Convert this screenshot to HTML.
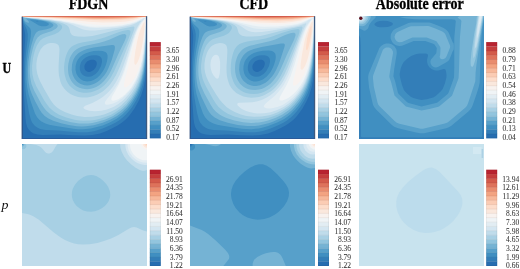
<!DOCTYPE html>
<html><head><meta charset="utf-8"><style>
html,body{margin:0;padding:0;background:#fff;}
body{width:520px;height:269px;position:relative;overflow:hidden;}
svg{position:absolute;left:0;top:0;display:block;filter:blur(0.6px);}
</style></head><body>
<svg width="520" height="269" viewBox="0 0 520 269">
<rect x="22.0" y="16.0" width="125.0" height="123.0" fill="#266db0"/>
<path fill="#337eb8" d="M72.9 135.2l11.6 .2 7.8-.5 3.9-.6 3.9-.9 6.5-2.5 5.2-2.4 5.3-2.8 3.9-2.5 2.6-2 2.6-2.3 2.8-3 3-3.8 2.6-3.9 3.6-6.4 2.9-6.4 2.4-7.6 1.5-7.7 .8-7.7 .5-10.3 .7-46.1-125 0 0 1.2 .4 .1 .6 6.4 1.7 7.7 .5 3.8-.1 5.1-1.4 23.1-.1 20.5 .4 11.5 1.5 23.1 .7 5.1 1 3.3 1.3 2.3 2.6 2.7 2.6 1.6 3.9 1.1 5.2 .4 17-.4zM87.1 71.5l-1.3-.8-.7-.9-.6-1.4-.1-2.4 .4-1.3 1-1.7 1.3-1.4 1.2-.8 2.7-1 2.6 0 1.3 .5 .8 .5 .9 1.3 .2 1.3-.1 1.3-.9 2.5-.9 1.4-1.3 1.4-2.6 1.5-1.3 .4-1.3 0z"/>
<path fill="#408fc1" d="M66.2 131.3l11.8 1 9.1-.1 3.9-.5 3.9-.7 7.8-2.5 9.1-3.9 4-2.2 3.9-2.5 3.9-3.1 2.6-2.5 3.1-3.5 2.9-3.8 4-6.4 3.7-7.7 2.6-7.7 1.7-7.7 1-7.7 .7-10.2 .6-19.3 .2-23 .3-.2 0-1.1-125 0 0 1.1 .7 .2 .6 4.7 3.7 8.1 .8 3.8-.1 5.2-1.8 14.4-.7 8.6-.4 10.3 .1 8.9 .6 9 1 7.7 2.7 15.4 1.7 6.4 1.5 3.2 2.6 3 2.6 1.8 2.6 1.1 5.2 1 13.1 .7zM85.8 76.5l-2.6-1.3-1.3-1.3-1.1-1.5-.9-2.6-.1-2.6 .4-2.5 1-2.6 .9-1.3 1.1-1.2 2.6-2 2.6-1.3 2.6-.7 2.6-.4 2.6 0 2.3 .5 1.6 .9 1.4 1.7 .4 1.3 .1 2.5-1 3.9-2.2 4.2-1.3 1.7-1.7 1.8-3.5 2.2-1.3 .5-2.6 .4zM36.3 21.3l-.5-.2 .5-.1 2.5 .1-1.2 .4z"/>
<path fill="#57a0ca" d="M73.5 128.8l4.5 .4 5.2 .1 7.8-.8 7.8-1.9 3.9-1.2 6.5-2.7 6.6-3.5 2.6-1.7 3.9-3 5.2-5.1 3-3.7 2.7-3.9 3.8-6.4 2.8-6.4 2.5-7.7 1.7-7.6 1.1-9 .6-10.3 .6-16.6 .3-20.5 .4-.2 0-1.1-125 0 0 1.1 .9 .2 .4 2.8 1.3 2.5 1.3 1.6 3.5 3.3 1 1.3 .7 2.6-.3 5.1-2.6 14.1-1.2 9-.6 8.9 0 10.3 .7 7.7 1.4 7.4 2.6 8.7 3.9 10.8 2.1 3.8 2.2 2.6 2.2 1.8 3.9 2 3.9 1.1 5.3 1.1zM87.1 81.4l-2.6-.3-1.3-.4-2.6-1.5-2.6-2.6-1.6-2.9-.9-3.9 .1-3.8 1-3.9 1.3-2.5 2-2.6 3.3-2.5 2.6-1.3 3.9-1.3 3.9-.8 5.2-.4 3.9 .2 2.7 1 1.2 1.1 .7 1.4 .3 1.3-.1 2.6-.4 2.5-1.1 3.9-1.6 3.8-1.4 2.6-2.9 3.9-2.5 2.5-1.8 1.3-2.2 1.2-2.6 1zM41.5 26.3l-2.6-.7-9.5-5.8 .4-.3 1.3 0 5.4 .3 2.4 .7 4.2 .6 4 1.3 1.8 1.3-.3 1.3-1.9 .9-1.3 .3z"/>
<path fill="#75b3d4" d="M76.7 126.2l5.2 .2 3.9-.1 7.8-1 9.1-2.5 7.8-3.2 6.6-3.7 5.2-4 5.2-5.2 2.6-3.2 3-4.2 3.5-6.1 3-6.7 2.4-7.7 1.7-7.7 1-7.7 .6-7.7 .8-17.9 .4-20.5 .5-.3 0-1-125 0 0 1 1.2 .3 .1 1 1.3 2.5 1.3 1.1 1.3 .7 1.3 .1 .5-.3-.4-1.3-3-2.5 1.6-.2 2.6 .1 2.6 .6 6.4 .7 7 1.3 4.5 1.3 2.4 1.3 .8 1.3-.5 1.3-2.4 1.6-3.9 1.3-7.8 1.6-1.3 .6-1.3 1.1-1.3 1.9-1.3 2.9-2.6 8.7-1.5 7.2-1.3 8.9-.4 7.7 .2 7.7 .5 5.1 1.2 5.8 2.1 5.8 3.1 6.7 4.6 8.6 1.9 3 3.2 3.4 3.3 2.4 5.2 2.4 7.9 2.5 7.8 1.8zM84.5 85.2l-3.9-1.2-2.4-1.4-1.5-1.3-2.1-2.5-1.9-3.9-.6-2.5-.4-2.6 .3-5.1 .6-2.6 .9-2.5 1.9-3.3 2.6-2.8 2.2-1.6 3-1.5 3.9-1.4 6.5-1.4 14.3-2.2 3.9-.4 1.3 0 1.2 .5 .6 1.3-.1 2.5-2.9 10.3-3.6 8.9-2 3.9-2.3 3.4-3.9 4.3-2.6 2-2.6 1.5-2.6 1-2.6 .6-2.6 .2z"/>
<path fill="#92c5de" d="M71.1 122.3l8.2 1.2 3.9 .1 5.2-.2 3.9-.5 5.2-1.1 7.8-2.4 3.9-1.6 3.9-1.9 6.6-4.3 3.9-3.3 2.6-2.6 5.2-6.5 3.9-6.2 3.2-6.5 2.7-7.7 1.9-8.2 1.3-9.1 .5-5.8 1-17.9 .5-12.8 0-7.7 .6-.3 0-1-125 0 0 1 2.2 .3 .4 .5 1.3 .3 6.1 .5 16.5 2.5 4.8 1.3 2.8 1.3 1.4 1.3 .2 1.3-.6 1.2-1.3 1.3-3.9 2.1-9.1 3-2.6 1.3-2.6 2.4-1.7 2.7-1.7 3.9-1.2 3.8-1.3 5.2-1 5.1-.6 5.1-.4 5.1 .1 5.2 .4 3.8 1.3 6.4 2.5 6.4 7.5 13.9 2.6 3.9 2.3 2.7 4.2 3.7 5.3 3 6.5 2.5zM84.5 89.1l-2.6-.5-2.6-.8-2.5-1.3-1.8-1.3-2.2-2.2-1.3-1.7-1.4-2.5-1-2.6-.7-2.5-.4-3.9 0-2.6 .4-3.8 1.3-5.1 1.2-2.6 1.6-2.5 1.6-1.9 2.5-2 2.7-1.5 2.6-1 4.8-1.3 12.1-2.5 5.2-1.4 5.2-1.9 9.9-4.5 3.2-1 2.6-.2 1.4 1.2-.1 1.7-1.2 3.4-6.3 12.9-7.3 16.6-2.2 4.1-2.3 3.6-2.9 3.5-2.6 2.5-2.6 1.9-2.6 1.5-2.6 1.1-2.6 .7-3.9 .5z"/>
<path fill="#a8d0e4" d="M74.5 119.8l4.8 .7 3.9 .2 7.8-.3 3.9-.5 5.2-1.2 7.8-2.6 3.2-1.4 4.6-2.6 5.3-3.8 5.2-4.9 5.2-6.5 4-6.6 3.8-8.3 2.6-8.5 1.3-6.4 1.3-10.1 1.1-15.4 .7-16.6 0-7.7 .8-.4 0-.9-125 0 0 .9 3.2 .4 .7 .3 17.5 2.2 7.2 1.2 4 .9 4.9 1.8 1.8 1.3 .8 1.3 .1 1.2-.5 1.3-.9 1.3-2.3 2.2-3.9 2-7.9 2.5-3.9 1.7-2.6 2.1-2.6 3.6-1.3 2.6-1.3 3.5-1.3 4.6-.7 3.4-.9 7.7 0 3.8 .3 4.3 1.3 6 2.7 6.4 7.7 13.7 2.6 3.9 2.6 3.3 3.9 3.6 2.7 1.8 3.2 1.9 7.2 2.9zM79.3 91.9l-2.6-1-2.6-1.3-2.6-2-2.3-2.4-1.7-2.6-1.2-2.4-1.6-5.3-.5-3.8-.1-3.9 .3-3.8 .6-3.8 1-3.9 1-2.5 1.3-2.6 1.9-2.6 1.3-1.2 1.9-1.3 4.6-1.9 3.9-1 11.7-2.2 5.9-1.3 5.8-1.9 11.9-4.5 5.1-1.6 5.2-1 1.3-.1 1.3 .5 .4 .9-.3 2.5-1.3 3.9-2.7 6.4-12 26.9-3.5 6.4-2.8 3.8-3.6 3.9-2.9 2.4-2.6 1.7-3.9 1.8-3.9 1.2-3.9 .5-3.9-.1z"/>
<path fill="#c0dceb" d="M77.2 115.9l7.3 1 7.8-.2 7.8-1.2 3.9-1 3.9-1.4 6.5-3.1 4-2.6 2.6-2 5.2-4.9 5.2-6.4 3.9-6.4 2.6-5.5 2.1-6 1.8-6.4 1.3-6.9 1.2-9.7 1.4-19.3 .4-8.9 0-7.7 .9-.5 0-.8-125 0 0 .8 1.3 .3 2.8 .2 2.4 .6 17.9 1.9 8.2 1.3 5.5 1.3 3.8 1.3 2.5 1.3 1.6 1.2 .9 1.3 .5 1.3 1 3.9 1.1 1.7 1 .8 1.6 .7 3.9 .7 6.5 .1 7.8-.8 6.5-1.3 17.5-4.5 15.1-3.3 2.6-.2 .5 .9-.5 2.6-2.6 6.9-11.7 30.1-3.6 7.8-3 5.2-2.6 3.6-2.3 2.8-2.9 2.8-2.6 2.1-5.2 3.1-3.9 1.6-2.6 .7-3.9 .7-5.2 0-3.9-.5-3.9-1.2-3.4-1.6-3.1-2.2-2.6-2.5-2.3-3-1.4-2.6-1-2.6-1.4-6.4-.3-3.8 0-5.1 .9-16.7-.4-2.5-.6-1.5-1.1-1.1-1.5-.8-2.7-.4-2.6 .1-2.6 .5-1.5 .6-2.4 1.3-1.3 1.3-2.1 2.5-1.9 3.9-1.6 5.1-.8 5.1 0 5.1 .9 5.2 1.2 3.8 1.7 4 3.9 7.5 6.7 11.6 3 3.8 2.6 2.6 3.5 2.5 4.9 2.6 6.7 2.4z"/>
<path fill="#d4e6f1" d="M89.3 110.8l5.6 .5 6.5-.5 5.6-1.3 6.4-2.5 5-3 5.2-4.1 5.2-5.6 3.8-5.3 3.6-6.4 2.7-6.4 2.7-9 1-5.1 1.3-8.9 1.1-11.6 1-16.6 0-7.7 1-.5 0-.8-125 0 0 .8 1.3 .2 3.9 .3 1.3 .4 10.4 .9 3.9 .7 7.8 .6 4 .8 4 .4 3.8 1 2.3 .3 4.6 1.3 3.5 1.3 6.5 3 3.9 1.5 2.6 .5 3.9 .5 5.2-.1 5.2-.4 19.6-2.6 7.8-1.5 3.9-1 3.9-1.3 4.5-2.5 .7-.2 .8 .2-2 2.6-2.2 3.8-2.9 6.4-10.9 32.1-3.7 8.9-3.2 6.4-3.3 5.1-2.6 3.3-2.6 2.8-3.9 3.4-3.9 2.8-3.9 2.3-3.9 1.9-7 2.8-1.8 1.3 .1 1.2 1.7 1.3zM141.8 20.2l-.1-.4 .3 0z"/>
<path fill="#e2edf3" d="M105.5 104.4l1.1 .3 2.6-.1 3.9-1 4-1.8 5.2-3.5 3.9-3.6 2.9-3.1 2.9-3.8 2.4-3.9 2.6-5.1 2.9-7.7 .5-2.6 .9-2.5 .2-2.6 .9-2.6 .5-5.1 .7-2.5 .5-7.7 .6-3.9 .7-12.8 .5-3.8 0-7.7 1.1-.6 0-.7-125 0 0 .7 1.3 .2 15.6 1.4 3.9 .7 9.1 .6 2.7 .7 6.5 .6 2.6 .9 3.9 .4 2.6 .9 2.6 .3 2.6 .9 9.1 2.3 5.2 .8 6.5 .5 5.2-.1 13-.9 10.5-1.4 2.6-.8 2.6-.3 2.6-1 1.3-.2 5.2-2.5 1.3-.9 1.3-.4 1.3-1 1.3-.1 .3 .3-3.6 3.8-.6 1.3-1.9 2.6-.4 1.2-1 1.3-.3 1.3-.8 1.3-.8 2.5-.7 1.3-.6 2.5-.7 1.4-.6 2.5-.6 1.3-.6 2.6-.6 1.3-.6 2.5-5.4 17.5-2.6 7.3-2 4.7-2.6 5.1-3.3 5.4-3.9 5.3-3.7 4.7-1.7 2.5-.4 1.3z"/>
<path fill="#f0f4f6" d="M111.9 100.6l1.2 .2 1.3-.2 4-1.4 3.8-2.5 2.7-2.2 3.9-4 2.6-3.3 2.6-4.1 1.6-3 .4-1.3 .9-1.3 .2-1.3 .8-1.3 .7-2.5 .7-1.3 .4-2.6 1.1-2.5 .2-2.6 .9-2.6 .5-5.1 .7-2.3 .2-1.5 .5-7.7 .7-2.6 .7-14.1 .6-2.5-.1-7.7 1.3-.7 0-.6-125 0 0 .6 1.3 .2 15.6 1.3 3.9 .6 9.1 .5 2.7 .7 6.5 .5 2.6 .8 5.2 .7 2.6 .8 2.6 .3 2.6 .8 3.9 .8 2.6 .7 6.5 1.1 5.2 .4 14.3-.2 13.1-1.3 3.9-1 3.9-.6 1.3-.6 2.6-.6 1.3-.8 1.3-.3 1.3-.8 1.3-.4 1.3-.9 1.3-.4 1.3-.9 1.3-.2 .8 .8-3.5 3.8-.6 1.3-1 1.3-2.2 3.9-1.6 3.8-.3 1.2-.7 1.4-.6 2.5-1.1 2.5-.2 1.3-1 2.6-.5 2.6-.6 1.2-2 7.7-.6 1.3-2.1 7.7-2.6 7.7-2.5 6.4-3 6.4-6.6 11.5-.7 2.6z"/>
<path fill="#f8f2ef" d="M124.1 86.5l.8 .9 1.3-.2 2.6-1.7 2.6-2.8 2.6-3.8 1.3-2.2 2.6-5.8 1.3-3.7 1.3-4.6 1.3-6 .2-2.2 1.1-5.8 .2-4.4 1.1-6.8 .4-9.9 .9-4.7 0-4.1-1.3 1.1-3.5 5.2-2.5 5.1-2.3 6.4-2.5 9-8.8 34.6-.8 3.8zM85.7 23.7l7.9 .9 9.1 .3 10.4-.3 9.2-.7 5.2-.8 5.2-1.3 6.5-2.3 3.9-1.8 2.6-.5 1.3-.6 0-.6-125 0 0 .6 1.3 .1 15.6 1.1 3.9 .6 9.1 .5 4 .6 6.5 .6z"/>
<path fill="#fae8dd" d="M135 64.7l.3 .2 1.3-1.1 1.3-2.4 1.3-3.4 1.3-4.5 1.3-5.9 1.3-7.8 1.3-10.3 .3-5.8-.3-1.9-1.3 1.9-2.6 5.8-1.5 4.4-1.6 6.4-2.1 11.1-.9 6.9-.1 3.8 .1 1.3zM102.8 22.4l13-.2 10.4-.8 6.5-1.2 10.6-2.9 2.4-.2 1.3-.6 0-.5-125 0 0 .5 1.3 .2 31.3 1.9 35.1 3.2z"/>
<path fill="#fdddcb" d="M85.6 19.8l18.4 .7 15.7-.3 9.1-.7 9.1-1.4 3.2-.8 4.6-.4 1.3-.4 0-.5-125 0 0 .5 6.5 .4 16.9 .6z"/>
<path fill="#fbccb4" d="M76.8 18.6l7.7 .5 10.4 .3 24.8-.1 5.2-.3 10.4-1 3.4-.7 7-.5 1.3-.4 0-.4-125 0 0 .4 7.8 .5 19.3 .4 9.4 .6z"/>
<path fill="#f7b89a" d="M88 18.6l16 .3 14.4-.3 9.1-.5 11.7-1.1 6.5-.3 1.3-.4 0-.3-125 0 0 .3 7.8 .4 23.4 .5z"/>
<path fill="#f3a381" d="M63.9 17.3l28.4 .9 19.5 0 11.8-.3 22.1-1.3 1.3-.3 0-.3-125 0 0 .3 7.8 .3z"/>
<path fill="#e98c6e" d="M75.3 17.3l20.9 .4 18.2-.1 31.3-1.2 1.3-.2 0-.2-125 0 0 .2 7.8 .3z"/>
<path fill="#de725b" d="M22 16l7.8 .3 70.3 .9 22.2-.2 24.7-.9z"/>
<path fill="#d35a4a" d="M22 16l78.1 .7 22.2-.1 24.7-.5z"/>
<rect x="149.8" y="133.74" width="11.0" height="4.66" fill="#266db0"/>
<rect x="149.8" y="129.37" width="11.0" height="4.66" fill="#337eb8"/>
<rect x="149.8" y="125.01" width="11.0" height="4.66" fill="#408fc1"/>
<rect x="149.8" y="120.65" width="11.0" height="4.66" fill="#57a0ca"/>
<rect x="149.8" y="116.28" width="11.0" height="4.66" fill="#75b3d4"/>
<rect x="149.8" y="111.92" width="11.0" height="4.66" fill="#92c5de"/>
<rect x="149.8" y="107.55" width="11.0" height="4.66" fill="#a8d0e4"/>
<rect x="149.8" y="103.19" width="11.0" height="4.66" fill="#c0dceb"/>
<rect x="149.8" y="98.83" width="11.0" height="4.66" fill="#d4e6f1"/>
<rect x="149.8" y="94.46" width="11.0" height="4.66" fill="#e2edf3"/>
<rect x="149.8" y="90.10" width="11.0" height="4.66" fill="#f0f4f6"/>
<rect x="149.8" y="85.74" width="11.0" height="4.66" fill="#f8f2ef"/>
<rect x="149.8" y="81.37" width="11.0" height="4.66" fill="#fae8dd"/>
<rect x="149.8" y="77.01" width="11.0" height="4.66" fill="#fdddcb"/>
<rect x="149.8" y="72.65" width="11.0" height="4.66" fill="#fbccb4"/>
<rect x="149.8" y="68.28" width="11.0" height="4.66" fill="#f7b89a"/>
<rect x="149.8" y="63.92" width="11.0" height="4.66" fill="#f3a381"/>
<rect x="149.8" y="59.55" width="11.0" height="4.66" fill="#e98c6e"/>
<rect x="149.8" y="55.19" width="11.0" height="4.66" fill="#de725b"/>
<rect x="149.8" y="50.83" width="11.0" height="4.66" fill="#d35a4a"/>
<rect x="149.8" y="46.46" width="11.0" height="4.66" fill="#c53e3d"/>
<rect x="149.8" y="42.10" width="11.0" height="4.36" fill="#b82330"/>
<path d="M149.8 133.74h11.0M149.8 129.37h11.0M149.8 125.01h11.0M149.8 120.65h11.0M149.8 116.28h11.0M149.8 111.92h11.0M149.8 107.55h11.0M149.8 103.19h11.0M149.8 98.83h11.0M149.8 94.46h11.0M149.8 90.10h11.0M149.8 85.74h11.0M149.8 81.37h11.0M149.8 77.01h11.0M149.8 72.65h11.0M149.8 68.28h11.0M149.8 63.92h11.0M149.8 59.55h11.0M149.8 55.19h11.0M149.8 50.83h11.0M149.8 46.46h11.0" stroke="#000" stroke-opacity="0.1" stroke-width="0.5" fill="none"/>
<rect x="150.1" y="42.4" width="10.5" height="95.5" stroke="#000" stroke-opacity="0.1" stroke-width="0.5" fill="none"/>
<rect x="21.6" y="16.6" width="1.1" height="122.4" fill="#2f4f7e"/><rect x="145.9" y="16.2" width="1.3" height="122.8" fill="#3d5a80"/><rect x="22.0" y="138" width="125" height="1" fill="#2a5b9a"/>
<rect x="190.0" y="16.0" width="125.0" height="123.0" fill="#266db0"/>
<path fill="#337eb8" d="M240.9 135.2l11.6 .2 7.8-.5 3.9-.6 3.9-.9 6.5-2.5 5.2-2.4 5.3-2.8 3.9-2.5 2.6-2 2.6-2.3 2.8-3 3-3.8 2.6-3.9 3.6-6.4 2.9-6.4 2.4-7.6 1.5-7.7 .8-7.7 .5-10.3 .7-46.1-125 0 0 1.2 .4 .1 .6 6.4 1.7 7.7 .5 3.8-.1 5.1-1.4 23.1-.1 20.5 .4 11.5 1.5 23.1 .7 5.1 1 3.3 1.3 2.3 2.6 2.7 2.6 1.6 3.9 1.1 5.2 .4 17-.4zM255.1 71.5l-1.3-.8-.7-.9-.6-1.4-.1-2.4 .4-1.3 1-1.7 1.3-1.4 1.2-.8 2.7-1 2.6 0 1.3 .5 .8 .5 .9 1.3 .2 1.3-.1 1.3-.9 2.5-.9 1.4-1.3 1.4-2.6 1.5-1.3 .4-1.3 0z"/>
<path fill="#408fc1" d="M234.2 131.3l11.8 1 9.1-.1 3.9-.5 3.9-.7 7.8-2.5 9.1-3.9 4-2.2 3.9-2.5 3.9-3.1 2.6-2.5 3.1-3.5 2.9-3.8 4-6.4 3.7-7.7 2.6-7.7 1.7-7.7 1-7.7 .7-10.2 .6-19.3 .2-23 .3-.2 0-1.1-125 0 0 1.1 .7 .2 .6 4.7 3.7 8.1 .8 3.8-.1 5.2-1.8 14.4-.7 8.6-.4 10.3 .1 8.9 .6 9 1 7.7 2.7 15.4 1.7 6.4 1.5 3.2 2.6 3 2.6 1.8 2.6 1.1 5.2 1 13.1 .7zM253.8 76.5l-2.6-1.3-1.3-1.3-1.1-1.5-.9-2.6-.1-2.6 .4-2.5 1-2.6 .9-1.3 1.1-1.2 2.6-2 2.6-1.3 2.6-.7 2.6-.4 2.6 0 2.3 .5 1.6 .9 1.4 1.7 .4 1.3 .1 2.5-1 3.9-2.2 4.2-1.3 1.7-1.7 1.8-3.5 2.2-1.3 .5-2.6 .4zM204.3 21.3l-.5-.2 .5-.1 2.5 .1-1.2 .4z"/>
<path fill="#57a0ca" d="M241.6 128.8l4.4 .3 5.2 .1 7.8-.8 3.9-.8 5.2-1.5 9.1-3.5 6.6-3.4 3.9-2.7 2.6-2.1 5.2-5.1 2.9-3.6 2.8-3.9 3.7-6.4 2.9-6.4 2.5-7.7 1.6-7.6 1-7.7 .8-11 .7-22.3 .2-15.4 .4-.2 0-1.1-125 0 0 1.1 1 .2 .3 2.7 1.3 2.5 1.3 1.7 3.6 3.3 1 1.3 .8 2.6-.4 5.1-2.7 14.1-1.2 9-.6 10.2 .1 9 .7 8.3 1.3 6.8 2.6 8.7 3.9 10.8 2.1 3.8 2.2 2.6 2.2 1.8 3.9 2 3.9 1.1 5.3 1.1zM253.8 81.4l-2.6-.6-1.5-.7-1.8-1.3-2.3-2.6-1.3-2.5-.9-3.9 .1-3.8 1-3.9 1.5-2.9 2.6-3 2.5-1.8 2.7-1.3 3.9-1.3 5.2-1 5.2-.2 2.6 .2 1.3 .3 1.7 .8 1.3 1.3 .5 1.2 .3 2.6-.3 2.6-.6 2.5-1.3 3.9-1.8 3.8-1.6 2.6-3.4 4.1-3.9 3-3.9 1.6-2.6 .4zM209.5 26.4l-2.6-.7-9.6-5.9 .5-.3 1.3-.1 5.4 .4 6.6 1.3 4.1 1.3 1.8 1.3-.2 1.3-2.1 1-1.3 .3z"/>
<path fill="#75b3d4" d="M237.8 124.9l9.5 1.1 7.8-.1 3.9-.5 5.2-1.1 5.2-1.4 3.9-1.4 7.8-3.6 6.6-4.2 3.9-3.3 2.6-2.6 5.2-6.4 4.5-7.2 3-6.4 2.7-7.7 1.7-7.7 1.2-7.7 .8-10.3 1-23 .2-14.1 .5-.3 0-1-125 0 0 1 1.3 .3 0 .4 1.3 2.8 1.3 1.1 1.3 .4 .8-.9-1.1-1.3-1.6-1.2 1.9-.2 3.4 .2 1.8 .4 6.8 .8 7 1.3 4.5 1.3 2.5 1.3 .9 1.3-.4 1.2-.5 .5-1 .8-1.6 .8-3.9 1.3-6.5 1.5-2.6 1.2-1.6 1.6-1.4 2.6-1.9 5.1-1.6 5.7-1.3 6.1-.9 6.2-.6 6.4-.2 6.4 .2 5.1 .6 5.1 .9 4.6 1 3.1 2.9 7.3 5.9 11.9 1.9 3 1.8 2.2 3.4 2.8 5.2 2.7 7.9 2.5zM251.2 85.5l-3.9-1.5-3.4-2.7-1.1-1.2-1.6-2.6-1.4-3.8-.6-3.9 .3-5.1 .5-2.6 .9-2.5 2.2-3.9 1.6-1.7 2.6-2.2 2.6-1.4 3.9-1.5 7.8-1.8 19.5-3.6 2.7-.1 .9 .8 .1 1.3-.3 1.3-4.1 12.8-1.9 5.1-2.3 5.1-2.2 3.9-2 2.8-3.9 4.2-2.6 2-2.6 1.4-2.8 1.1-3.7 .7-2.6 0z"/>
<path fill="#92c5de" d="M243.2 122.3l8 .6 7.8-.5 5.2-.9 3.9-.9 7.8-2.8 6.5-3.2 6.6-4.6 5.2-4.9 2.6-3 3-4.1 3.9-6.4 3-6.4 2.3-6.4 1.8-7.7 1.3-7.7 .9-10.2 1.2-23.1 .1-12.8 .7-.3 0-1-125 0 0 1 2.5 .3 1.4 .7 6.5 .6 16.7 2.5 4.9 1.3 2.9 1.3 1.5 1.3 .4 1.3-.4 1.2-1.1 1.3-1.4 1.1-4 2-7.8 2.5-2.6 1.2-2.6 2-1.3 1.5-1.3 2.1-1.3 3-1.8 5.1-1.3 5.1-.9 5.2-.5 5.1-.2 5.1 .2 5.1 .5 3.9 1.7 6.4 3.6 8 6.5 11.9 2.6 3.8 2.6 2.8 3.9 3 2.7 1.5 3.9 1.8 7.8 2.5zM248.6 89.2l-2.6-1-2.6-1.5-3.2-2.8-2.6-3.8-1.1-2.6-.7-2.6-.5-2.5-.3-3.9 .2-3.8 .4-2.6 1.5-5.1 1.2-2.6 1.8-2.5 2-2.1 2.5-1.8 2.6-1.2 2.7-1 20.8-4.8 5.2-1.8 9.2-4.1 5.2-1.8 2.6-.5 1.3 0 1.3 1 0 1.8-1.3 4-7.2 14.8-6.1 14.1-3.4 6.4-3.6 5.2-3.2 3.3-2.6 2.1-3.7 2.3-2.8 1.1-2.6 .7-3.9 .5-3.9-.3z"/>
<path fill="#a8d0e4" d="M241.8 118.5l4.2 .8 3.9 .3 7.8 0 6.5-.8 3.9-.9 5.2-1.6 5.2-2.1 2.6-1.4 6.6-4.2 2.6-2.2 3.9-3.8 4.8-5.9 3.3-5.1 3.8-7.7 2.7-7.7 1.6-6.4 1.3-7.7 1.1-10.2 1.3-23.1 .1-11.5 .8-.4 0-.9-125 0 0 .9 3.4 .4 1.8 .6 17 1.9 7.9 1.3 5.2 1.3 3.3 1.3 2 1.3 1 1.3 .3 1.2-.2 1.3-.6 1.3-2 2.6-1.3 1-3.9 2-9.2 2.7-2.6 1.2-2.6 1.8-2.6 3.1-1.3 2.3-1.6 3.8-1.8 6.4-1.1 7.7-.1 3.8 .3 3.9 1.3 6.4 1 2.5 2.4 5.2 7.4 13.3 2.6 4 2.6 3.1 4.4 3.9 4.8 2.9 6.5 2.7zM246 92.9l-2.6-1-2.6-1.5-2.6-2-1.9-1.9-1.8-2.6-1.3-2.6-1.7-5.1-.6-3.8-.2-3.9 .2-3.8 .6-5.1 1.2-5.2 .8-2.5 1.2-2.6 1.7-2.5 1.2-1.3 1.9-1.4 3.9-1.6 3.9-.9 11.7-1.9 6.5-1.3 5.2-1.5 11.8-4.2 9.1-2.6 5.2-.9 1.3-.1 1.3 .6 .2 .4-.2 2.4-1.3 3.9-13 30.9-4 8-2.6 4.1-2.6 3.5-3.5 3.6-3.2 2.5-4.5 2.6-3.1 1.2-3.9 .9-3.9 .4-3.9-.3z"/>
<path fill="#c0dceb" d="M246.4 115.9l7.4 .9 7.8-.2 7.8-1.4 3.9-1.2 3.9-1.5 6.6-3.4 5.2-3.7 5.2-4.9 5.2-6.5 3.9-6.4 2.6-5.5 2.6-7.4 1.8-7.5 1.3-7.6 1.3-12.8 1.1-19.3 .1-10.2 .9-.5 0-.8-125 0 0 .8 1.3 .3 2.8 .2 2.4 .6 18 1.9 8.1 1.3 5.6 1.3 3.7 1.3 2.5 1.3 1.6 1.3 1 1.2 1.6 5.2 .9 1.4 1.3 1 1.3 .6 3.9 .8 6.5 .1 7.8-.7 6.5-1.3 17.4-4.5 15.2-3.3 2.6-.3 .6 1-.6 2.6-3.9 10.4-10.4 26.7-3.6 7.7-2.9 5.2-2.7 3.7-2.2 2.7-3 2.9-2.6 2-5.2 3.2-2.6 1.1-3.9 1.2-3.9 .7-3.9 .1-3.9-.4-3.9-.9-3.9-1.6-3.2-1.9-3-2.6-2.1-2.5-1.5-2.6-1.1-2.6-1.1-3.8-.5-2.6-.4-3.8-.1-5.2 .8-14 0-3.9-.5-2.5-.3-1-1.3-1.5-2.6-1-2.7-.2-2.6 .3-2.5 .8-2.3 1.3-1.7 1.3-2.6 3.5-1.4 2.9-1.5 5.1-.8 5.1 0 5.1 .6 3.9 1.1 3.8 2 4.7 2.6 4.8 5.2 8.5 3.9 5.7 2.7 3.2 3.9 3.8 3.6 2.6 4.6 2.6 6.1 2.4z"/>
<path fill="#d4e6f1" d="M257.5 113.4l6.7-.2 6.5-1 6.5-2.1 6.4-3.1 5.4-3.8 5.2-4.8 3.9-4.7 3.9-5.8 2.6-5 2.6-6.5 1.6-5.3 1.4-6.4 1.3-7.7 1.2-11.5 1.2-19.2 .1-9 1-.5 0-.8-125 0 0 .8 1.3 .2 24.7 2.7 9.3 1.4 5.9 1.3 4.2 1.3 3.2 1.3 2.4 1.3 5 3.4 2.6 1.3 2.6 .7 3.9 .5 6.5-.1 9.1-1.3 23.5-4.1 5.2-1.3 6.5-2.2 .5 .5-2.5 5.1-2.6 6.4-9.7 27.4-3.9 9.9-3.9 7.8-2.7 4.1-2.6 3.4-3.9 4-3.9 3.2-3.9 2.5-5.2 2.4-3.9 1.3-5.2 1-5.2 .4-7.8 .1-1.8 .4-.5 1.3 .7 1.3 2.9 2.5 2.1 1.3 2.7 1.3 3.8 1.3 4.4 .9zM215.3 77.5l.7 .7 1.3 .5 1.3-.8 1.1-4.2 .4-5.2 0-6.4-.7-3.8-.8-2-.5-.6-.8-.7-1.3-.3-1.3 .3-1.1 .7-1.5 1.8-1.3 3.3-.4 3.9 .3 3.8 1.2 3.9 1.5 2.9z"/>
<path fill="#e2edf3" d="M266.2 108.2l3.2 .3 2.6-.2 5.2-1.2 3.7-1.4 2.6-1.3 4.1-2.6 5.3-4.4 3.9-4.2 3.9-5.4 2.6-4.5 2.6-5.7 1.3-3.6 1.3-4.3 1.4-6.3 1.2-6.6 1.3-11.3 1.4-19.2 0-9 1.2-.6 0-.7-125 0 0 .7 1.3 .2 24.7 2.5 10.5 1.4 7.9 1.6 4.9 1.3 13.2 4.2 3.9 .8 5.2 .3 6.5-.2 7.8-.6 10.5-1.3 7.8-1.3 3.9-.9 3.9-1.3 3.9-1.7 3.1-1.9 2.1-.6 .1 .6-2.3 2.6-2.6 3.9-3 6.4-2.8 7.6-8.3 25.7-2.4 6.4-2.8 6.4-3.5 6.4-2.4 3.4-2.6 3.2-3.9 4.2-8.4 7.1-1.4 1.3-.9 1.3-.1 1.3z"/>
<path fill="#f0f4f6" d="M280.7 100.6l1.7-.1 4-1.4 3.7-2.4 4.1-3.4 2.6-2.8 3.9-5.3 2.6-4.5 2.6-5.7 2.6-8.1 1.3-5.7 1.3-7.8 .6-6.6 .7-4.7 .6-10.7 .7-5.6 0-8.5 1.3-.7 0-.6-125 0 0 .6 1.3 .2 26 2.4 10.5 1.3 9.1 1.5 15.6 3.5 6.5 1 5.2 .3 13-.3 14.4-1.5 6.5-1.3 3.9-1.2 9.1-4.3 1.3-.2 .7 .6-2.4 2.5-2.6 3.9-2.2 3.8-1.6 3.9-3.9 11.5-5.9 20.5-3.9 11.5-4.1 9-5.8 10.2-1.1 2.6-.2 1.3 .4 .9z"/>
<path fill="#f8f2ef" d="M293.3 85.2l.9 .6 1.3-.3 2.6-2.1 2.6-3.1 2.6-4.2 1.3-2.6 2.6-6.9 1.3-4.6 1.3-6 1.3-8 1.3-11.1 .5-8.1 .8-6.4 0-3.5-1.3 1-3.4 5.1-2.4 5.1-2.3 6.4-2.8 10.3-7.5 30.7-1 5.1 0 1.3zM255.3 23.7l8.9 .8 9.1 .2 9.1-.3 9.2-.9 3.9-.6 5.2-1.2 3.9-1.3 8-3.1 1.1-.1 1.3-.6 0-.6-125 0 0 .6 1.3 .1 27.3 2.2 10.5 1.1z"/>
<path fill="#fae8dd" d="M301.7 69.8l.3 .1 1.3-1.2 1.3-2 1.3-2.8 1.3-3.6 1.3-4.6 1.3-6 1.3-7.9 1.3-10.5 .5-7.6 0-1.3-.5-1.3-2.3 3.9-1.7 3.8-2.2 6.4-1.7 6.4-2.5 12.8-1.3 9-.1 5.1 .1 .4zM260.1 22.4l8 .4 7.8 .1 7.9-.2 7.8-.6 9.1-1.6 10.9-3.2 2.1-.3 1.3-.5 0-.5-125 0 0 .5 1.3 .2 29.9 2z"/>
<path fill="#fdddcb" d="M305.9 49.3l1.3 1.3 1.3-3.4 1.3-5.3 1.3-7.4 .3-3.1 .2-3.9-.1-1.3-.4-.4-1.3 2.9-1.3 4.1-1.3 5.5-1 7.2zM262.6 21.1l14.6 .3 14.4-.6 7.8-1.1 10.9-2.4 3.4-.4 1.3-.4 0-.5-125 0 0 .5 1.3 .1 36.2 2 25 1.9z"/>
<path fill="#fbccb4" d="M260 19.8l17.2 .4 15.7-.6 11.7-1.5 3.9-.8 5.2-.5 1.3-.4 0-.4-125 0 0 .4 6.5 .4 16.9 .6z"/>
<path fill="#f7b89a" d="M247.2 18.6l18.3 .7 20.9-.2 6.5-.4 20.8-2 1.3-.4 0-.3-125 0 0 .3 6.5 .4 22.2 .6z"/>
<path fill="#f3a381" d="M265.9 18.6l13.9 0 11.8-.4 22.1-1.7 1.3-.2 0-.3-125 0 0 .3 6.5 .2 26.1 .6z"/>
<path fill="#e98c6e" d="M238.1 17.3l23.5 .6 19.5 0 10.5-.3 22.1-1.2 1.3-.2 0-.2-125 0 0 .2 6.5 .2z"/>
<path fill="#de725b" d="M261 17.3l29.3-.2 23.4-.8 1.3-.3-125 0 6.5 .3z"/>
<path fill="#d35a4a" d="M190 16l79.4 .7 22.2-.1 23.4-.5z"/>
<path fill="#c53e3d" d="M190 16l79.4 .2 45.6-.2z"/>
<rect x="318.0" y="133.74" width="11.0" height="4.66" fill="#266db0"/>
<rect x="318.0" y="129.37" width="11.0" height="4.66" fill="#337eb8"/>
<rect x="318.0" y="125.01" width="11.0" height="4.66" fill="#408fc1"/>
<rect x="318.0" y="120.65" width="11.0" height="4.66" fill="#57a0ca"/>
<rect x="318.0" y="116.28" width="11.0" height="4.66" fill="#75b3d4"/>
<rect x="318.0" y="111.92" width="11.0" height="4.66" fill="#92c5de"/>
<rect x="318.0" y="107.55" width="11.0" height="4.66" fill="#a8d0e4"/>
<rect x="318.0" y="103.19" width="11.0" height="4.66" fill="#c0dceb"/>
<rect x="318.0" y="98.83" width="11.0" height="4.66" fill="#d4e6f1"/>
<rect x="318.0" y="94.46" width="11.0" height="4.66" fill="#e2edf3"/>
<rect x="318.0" y="90.10" width="11.0" height="4.66" fill="#f0f4f6"/>
<rect x="318.0" y="85.74" width="11.0" height="4.66" fill="#f8f2ef"/>
<rect x="318.0" y="81.37" width="11.0" height="4.66" fill="#fae8dd"/>
<rect x="318.0" y="77.01" width="11.0" height="4.66" fill="#fdddcb"/>
<rect x="318.0" y="72.65" width="11.0" height="4.66" fill="#fbccb4"/>
<rect x="318.0" y="68.28" width="11.0" height="4.66" fill="#f7b89a"/>
<rect x="318.0" y="63.92" width="11.0" height="4.66" fill="#f3a381"/>
<rect x="318.0" y="59.55" width="11.0" height="4.66" fill="#e98c6e"/>
<rect x="318.0" y="55.19" width="11.0" height="4.66" fill="#de725b"/>
<rect x="318.0" y="50.83" width="11.0" height="4.66" fill="#d35a4a"/>
<rect x="318.0" y="46.46" width="11.0" height="4.66" fill="#c53e3d"/>
<rect x="318.0" y="42.10" width="11.0" height="4.36" fill="#b82330"/>
<path d="M318.0 133.74h11.0M318.0 129.37h11.0M318.0 125.01h11.0M318.0 120.65h11.0M318.0 116.28h11.0M318.0 111.92h11.0M318.0 107.55h11.0M318.0 103.19h11.0M318.0 98.83h11.0M318.0 94.46h11.0M318.0 90.10h11.0M318.0 85.74h11.0M318.0 81.37h11.0M318.0 77.01h11.0M318.0 72.65h11.0M318.0 68.28h11.0M318.0 63.92h11.0M318.0 59.55h11.0M318.0 55.19h11.0M318.0 50.83h11.0M318.0 46.46h11.0" stroke="#000" stroke-opacity="0.1" stroke-width="0.5" fill="none"/>
<rect x="318.2" y="42.4" width="10.5" height="95.5" stroke="#000" stroke-opacity="0.1" stroke-width="0.5" fill="none"/>
<rect x="189.6" y="16.6" width="1.1" height="122.4" fill="#2f4f7e"/><rect x="313.9" y="16.2" width="1.3" height="122.8" fill="#3d5a80"/><rect x="190.0" y="138" width="125" height="1" fill="#2a5b9a"/>
<rect x="359.0" y="16.0" width="125.0" height="123.0" fill="#337eb8"/>
<path fill="#408fc1" d="M360.9 136.4l.7 .8 40.4 0 19.5 .4 19.5-.4 40.4 0 .7-.8 .1-38.4 .5-9.8 .6-4.3 .2-3.8 .5-24.2 0-39.9-125 0 0 19.1 1.3 2.7 .5 7.7zM377.2 26.7l-1.3-.6-1.3-1-.1-1.4 1.4-1.3 1.3-.6 2.6-.7 3.9-.3 4 .3 4.2 1.3 1.1 1.3-.6 1.3-.8 .5-1.5 .8-2.5 .6-5.2 .4-2.6-.1zM418.9 99.5l-5.6-1.5-2.2-1-3.9-3.3-3.2-3.4-2-5.3-1.9-7.5-.4-2.6 0-1.2 1-5.1 1.3-3.6 1.8-2.9 3.4-3.4 3.9-2.6 2.6-1.2 2.6-.8 3.9-.7 5.2 0 1.3 .3 1.2 .7 .1 1.3-.9 3.9 0 2.5 .7 2.6 1.6 2.5 2.5 2.1 2.6 1 1.3 .2 2.6-.1 5.2-1.3 1.3 .1 .7 .6 .6 2.6 .3 2.5-.1 2.6-1.5 6.1-2.2 5.4-2.1 2.6-4.3 3.8-1.8 1.4-1.3 .6-6.5 1.9-5.2 .7z"/>
<path fill="#57a0ca" d="M416.1 132.6l4.1 .7 3.9-.1 22.1-5 2.6-.9 2.6-1.6 17-14.1 1.9-2.1 .9-1.3 1.3-2.5 4.4-12.8 1.9-6.1 .9-4.2 1.2-37.1 .5-7.3 1.3-11.6 1.3-7.8 0-2.8-67.4 0-9.4 .5-7.4 .8 6.7 1.3 8.5 .6 13 .2 23.4-.2 3.5 .6 .9 1.3-1.5 16.7 0 29.4-.3 10.3-2.6 7.5-3 7.9-1 1.3-6 5.1-4.3 3.4-1.1 .4-14.5 3.3-13-3.3-1.3-.9-4.4-4.2-3.9-3.8-.9-1.3-2.9-11.6-1.7-5.1 .9-7.7 2.5-15.3-.2-2.6-.3-1.3-1.5-2.5-1.3-1.3-1.9-1.2-2.7-.8-2.6 0-2.6 .7-2.6 1.7-1.7 2.1-10.2 24.4-.5 1.3-.5 2.5 0 2.6 .9 9 3.8 16.6 1.2 2.6 2 2.5 15.5 15.2 2.6 2 3.9 1.6zM434.4 67.2l1.4 .2 1.3-.1 1.3-.5 8.4-4.7 1.6-1.3 1-1.2 3.4-8.7 .4-.3 .6-1.3 .1-3.8-.4-2.6-.7-.5-4.1-9.7-.8-1.3-1.7-1.7-2.6-1.6-5.2-2.4-6.5-2.5-2.6-.8-18.2 0-2.6 .5-12.9 5.9-2 1.3-1.2 1.3-1.4 2.5-.3 1.3-.1 2.6 .2 1.3 1.1 2.5 1 1.3 1.4 1.3 2.5 1.3 2.6 .5 2.6-.2 11.7-4.7 11.7 0 1.3 .3 6.5 2.4 1.3 .7 2.3 3.5-.5 5.2-5.3 6.4-.5 1.2-.1 1.3 .2 1.5 1.3 2.2 1.3 .9zM362.6 30.1l1.6 .6 1.3-.3 1.3-.8 .9-.8 .7-1.3 .8-2.5 .7-1.3 2.1-2.6 2.7-2.5 1-1.3-.1-1.3-16.6 0 0 12.4 1.3 .3z"/>
<path fill="#75b3d4" d="M420.7 128.8l2.1-.1 1.3-.3 20.8-4.8 2.6-1.1 2-1.4 15.1-12.9 1.4-1.2 1.1-1.5 1.3-3.3 6.9-20.9 .3-8.9 .7-6.4 5.1-35.3 2.4-14.7-23.9 0-2.3 1.3 1.2 1.3 2 1.2 .6 1.3-1.5 16.7-.9 32-.4 7.7-.2 1.3-6.3 16.6-.7 .8-3.9 3.3-7.8 6.4-1.3 .8-9.1 2.2-7.8 1.6-15.6-4-9.1-8.7-2.3-2.4-3.3-12.8-1.7-5.1-.2-1.3 1.7-11.5 2-11.5-.1-1.7-1.1-2.2-1.5-1.3-1.4-.4-1.3-.2-1.3 .2-1.3 .4-1.6 1.3-.8 1.3-9.3 24.3-.3 1.3 0 2.6 .8 7.7 3.8 16.6 .9 1.8 1.3 1.5 14.8 14.7 2.2 1.6 2.6 1zM440.2 58.3l.8 .7 1.3 .3 1.3-.3 1.6-.7 1-1.4 1.3-2.8 2.4-6.1 .3-1.2-.2-1.3-4.8-11.6-1.1-1.2-1.8-1.1-6.3-2.8-6.7-2.5-1.3-.2-16.9 .1-2.6 .8-10.4 4.7-1.6 1-1.1 1.2-.8 2.6 .1 1.3 .4 1.3 .8 1.2 .9 .9 1.3 .7 1.3 .3 2.6-.2 10.4-4.4 1.3-.1 13 .1 9.1 3.4 .9 .6 .9 1.3 2.5 3.9 .4 1.2-.3 6.4-.6 2.6zM359 25l0 .9 3.9 .3 1.3-.4 1.3-.9 2.3-2.5 1.9-2.6 .7-1.2 .4-1.3 0-1.3-11.8 0z"/>
<path fill="#92c5de" d="M470.9 66l1.4 1.1 1.3-1.8 1.8-5.7 2.7-12.8 5.3-30.8-6 0-.6 1.3-.6 6.5-2 10.1-2.7 18-.9 8.9 0 2.6zM359 23.7l0 .5 2.6 .1 1.3-.2 1.3-.7 1.3-1 2.1-2.6 1-2.5 0-1.3-9.6 0z"/>
<path fill="#a8d0e4" d="M473.5 58.3l.1 .2 .6-1.5 .7-1 2.6-10.4 5.4-29.6-4.8 0-3.7 24.3-1.1 9-.3 5.1 .2 2.6zM359 22.4l0 .5 2.6-.1 1.3-.4 1.3-.8 1.6-1.8 .7-1.2 .5-2.6-8 0z"/>
<path fill="#c0dceb" d="M474.8 48l.1 1.1 .3-1.1 1-.9 1.3-5 5-26.1-3.8 0-.3 1.3-2.6 19.2-.9 8.1zM359 21.1l0 .5 1.3 0 1.3-.1 1.3-.6 1.3-1 .9-1.3 .4-1.3 .2-1.3-6.7 0z"/>
<path fill="#d4e6f1" d="M477.2 37.8l.3 .3 .5-2.9 .8-2.3 3.3-16.9-2.9 0-1.9 14.1-.3 5.1zM359 19.8l0 .6 1.3 0 1.3-.3 1.3-.8 .7-.7 .6-1.3 .2-1.3-5.4 0z"/>
<path fill="#e2edf3" d="M478.7 27.5l.1 .8 .3-3.3 .3-1.3 .7-.1 .6-3.8 .7-1.9 .2-1.9-1.9 0-.4 6.4-.5 1.2zM359 18.6l0 .4 1.3 0 1.3-.5 1.1-1.2 .3-1.3-4 0z"/>
<path fill="#f0f4f6" d="M359 16l0 .7 1.4-.7z"/>
<rect x="486.2" y="133.74" width="11.0" height="4.66" fill="#266db0"/>
<rect x="486.2" y="129.37" width="11.0" height="4.66" fill="#337eb8"/>
<rect x="486.2" y="125.01" width="11.0" height="4.66" fill="#408fc1"/>
<rect x="486.2" y="120.65" width="11.0" height="4.66" fill="#57a0ca"/>
<rect x="486.2" y="116.28" width="11.0" height="4.66" fill="#75b3d4"/>
<rect x="486.2" y="111.92" width="11.0" height="4.66" fill="#92c5de"/>
<rect x="486.2" y="107.55" width="11.0" height="4.66" fill="#a8d0e4"/>
<rect x="486.2" y="103.19" width="11.0" height="4.66" fill="#c0dceb"/>
<rect x="486.2" y="98.83" width="11.0" height="4.66" fill="#d4e6f1"/>
<rect x="486.2" y="94.46" width="11.0" height="4.66" fill="#e2edf3"/>
<rect x="486.2" y="90.10" width="11.0" height="4.66" fill="#f0f4f6"/>
<rect x="486.2" y="85.74" width="11.0" height="4.66" fill="#f8f2ef"/>
<rect x="486.2" y="81.37" width="11.0" height="4.66" fill="#fae8dd"/>
<rect x="486.2" y="77.01" width="11.0" height="4.66" fill="#fdddcb"/>
<rect x="486.2" y="72.65" width="11.0" height="4.66" fill="#fbccb4"/>
<rect x="486.2" y="68.28" width="11.0" height="4.66" fill="#f7b89a"/>
<rect x="486.2" y="63.92" width="11.0" height="4.66" fill="#f3a381"/>
<rect x="486.2" y="59.55" width="11.0" height="4.66" fill="#e98c6e"/>
<rect x="486.2" y="55.19" width="11.0" height="4.66" fill="#de725b"/>
<rect x="486.2" y="50.83" width="11.0" height="4.66" fill="#d35a4a"/>
<rect x="486.2" y="46.46" width="11.0" height="4.66" fill="#c53e3d"/>
<rect x="486.2" y="42.10" width="11.0" height="4.36" fill="#b82330"/>
<path d="M486.2 133.74h11.0M486.2 129.37h11.0M486.2 125.01h11.0M486.2 120.65h11.0M486.2 116.28h11.0M486.2 111.92h11.0M486.2 107.55h11.0M486.2 103.19h11.0M486.2 98.83h11.0M486.2 94.46h11.0M486.2 90.10h11.0M486.2 85.74h11.0M486.2 81.37h11.0M486.2 77.01h11.0M486.2 72.65h11.0M486.2 68.28h11.0M486.2 63.92h11.0M486.2 59.55h11.0M486.2 55.19h11.0M486.2 50.83h11.0M486.2 46.46h11.0" stroke="#000" stroke-opacity="0.1" stroke-width="0.5" fill="none"/>
<rect x="486.4" y="42.4" width="10.5" height="95.5" stroke="#000" stroke-opacity="0.1" stroke-width="0.5" fill="none"/>
<circle cx="360.8" cy="18.3" r="1.7" fill="#5a0f1c"/>
<rect x="22.0" y="144.0" width="125.0" height="122.0" fill="#337eb8"/>
<path fill="#408fc1" d="M22 266l125 0 0-122-124.4 0-.6 .4z"/>
<path fill="#57a0ca" d="M22 266l125 0 0-122-123.7 0-1.3 .8z"/>
<path fill="#75b3d4" d="M22 266l125 0 0-122-123.1 0-.6 .8-1.3 .5z"/>
<path fill="#92c5de" d="M22 266l125 0 0-122-122.5 0-.4 1.3-.8 .9-1.3 .2z"/>
<path fill="#a8d0e4" d="M22 266l125 0 0-122-121.4 0 .7 1.3 .1 1.2-.5 1.3-1.3 1.2-1.3 .3-1.3-.2zM87.1 211.4l-3.9-1-3-1.6-3.3-2.5-2.1-2.6-2-3.8-.7-2.5-.3-2.6 .3-3.8 .8-2.5 2-3.8 3.1-3.7 2.6-2.1 2.9-1.9 3.6-1.4 3.9-.5 2.6 .2 2.6 .8 3.9 2.1 3.3 2.7 3.2 3.7 1.7 2.6 1.5 3.8 .5 3.8-.3 2.6-1.4 3.8-1.7 2.5-2.3 2.6-3.2 2.3-2.9 1.5-3.6 1.1-3.9 .5z"/>
<path fill="#c0dceb" d="M22 266l125 0 0-34.4-3.9-1-6.5-3-2.6-.5-1.3 .1-1.3 .3-2.6 1.2-10.4 6.3-4 2-3.9 1.7-6.5 2.4-6.5 1.8-7.8 1.4-6.5 .3-5.2-.4-3.9-.8-3.9-1.2-5.2-2.2-3.9-2.2-3.9-2.7-4-3-14.3-12.3-5.2-3.4-2.6-1.2-2.6-.9-6.5-1.2zM142.3 170.7l2.1 0 2.6-.7 0-26-26.9 0 .3 3.8 1.2 3.8 2.6 5.1 2.9 3.8 3.9 3.8 4.3 3.2 3.9 2.3zM46.4 152.9l1.6 .6 1.3 0 1.3-.4 1.3-.9 1.3-1.5 2.4-4.2 2-2.5-27 0 5.7 1 3.5 1.5 1.7 1.3 3.9 4.4z"/>
<path fill="#d4e6f1" d="M141 164.3l3.4 .7 2.6 0 0-21-21.7 0 .3 3.8 .7 2.6 1.8 3.8 1.7 2.5 2.9 3 2.6 2 2.6 1.5z"/>
<path fill="#e2edf3" d="M140.3 161.8l2.8 .7 3.9 .3 0-18.8-19.4 0 .1 2.5 1 3.9 1.2 2.5 1.5 2.2 1.3 1.6 2.6 2.3 2.6 1.7z"/>
<path fill="#f0f4f6" d="M140.1 159.2l3 1 3.9 .1 0-16.3-17.1 0 .4 3.8 .9 2.6 1.4 2.5 1.4 1.8 2 2 1.9 1.4z"/>
<path fill="#f8f2ef" d="M145.3 149.1l.4 .4 1.3 .3 0-5.8-6 0 .3 1.3 .5 .4 .2 .8 2.4 2.4z"/>
<path fill="#fae8dd" d="M146.3 147.8l.7 .1 0-3.9-4 0 .2 1.3 .8 1.2 1.7 1.2z"/>
<path fill="#fdddcb" d="M144.8 145.3l.9 .8 1.3 .4 0-2.5-2.6 0z"/>
<path fill="#fbccb4" d="M145.9 144l1.1 1.1 0-1.1z"/>
<rect x="149.8" y="261.34" width="11.0" height="4.66" fill="#266db0"/>
<rect x="149.8" y="256.97" width="11.0" height="4.66" fill="#337eb8"/>
<rect x="149.8" y="252.61" width="11.0" height="4.66" fill="#408fc1"/>
<rect x="149.8" y="248.25" width="11.0" height="4.66" fill="#57a0ca"/>
<rect x="149.8" y="243.88" width="11.0" height="4.66" fill="#75b3d4"/>
<rect x="149.8" y="239.52" width="11.0" height="4.66" fill="#92c5de"/>
<rect x="149.8" y="235.15" width="11.0" height="4.66" fill="#a8d0e4"/>
<rect x="149.8" y="230.79" width="11.0" height="4.66" fill="#c0dceb"/>
<rect x="149.8" y="226.43" width="11.0" height="4.66" fill="#d4e6f1"/>
<rect x="149.8" y="222.06" width="11.0" height="4.66" fill="#e2edf3"/>
<rect x="149.8" y="217.70" width="11.0" height="4.66" fill="#f0f4f6"/>
<rect x="149.8" y="213.34" width="11.0" height="4.66" fill="#f8f2ef"/>
<rect x="149.8" y="208.97" width="11.0" height="4.66" fill="#fae8dd"/>
<rect x="149.8" y="204.61" width="11.0" height="4.66" fill="#fdddcb"/>
<rect x="149.8" y="200.25" width="11.0" height="4.66" fill="#fbccb4"/>
<rect x="149.8" y="195.88" width="11.0" height="4.66" fill="#f7b89a"/>
<rect x="149.8" y="191.52" width="11.0" height="4.66" fill="#f3a381"/>
<rect x="149.8" y="187.15" width="11.0" height="4.66" fill="#e98c6e"/>
<rect x="149.8" y="182.79" width="11.0" height="4.66" fill="#de725b"/>
<rect x="149.8" y="178.43" width="11.0" height="4.66" fill="#d35a4a"/>
<rect x="149.8" y="174.06" width="11.0" height="4.66" fill="#c53e3d"/>
<rect x="149.8" y="169.70" width="11.0" height="4.36" fill="#b82330"/>
<path d="M149.8 261.34h11.0M149.8 256.97h11.0M149.8 252.61h11.0M149.8 248.25h11.0M149.8 243.88h11.0M149.8 239.52h11.0M149.8 235.15h11.0M149.8 230.79h11.0M149.8 226.43h11.0M149.8 222.06h11.0M149.8 217.70h11.0M149.8 213.34h11.0M149.8 208.97h11.0M149.8 204.61h11.0M149.8 200.25h11.0M149.8 195.88h11.0M149.8 191.52h11.0M149.8 187.15h11.0M149.8 182.79h11.0M149.8 178.43h11.0M149.8 174.06h11.0" stroke="#000" stroke-opacity="0.1" stroke-width="0.5" fill="none"/>
<rect x="150.1" y="169.9" width="10.5" height="95.5" stroke="#000" stroke-opacity="0.1" stroke-width="0.5" fill="none"/>
<rect x="190.0" y="144.0" width="125.0" height="122.0" fill="#266db0"/>
<path fill="#337eb8" d="M190 266l125 0 0-122-123 0-.7 1.1-1.3 .5z"/>
<path fill="#408fc1" d="M190 266l125 0 0-122-122.4 0-.1 1.3-1.2 1.3-1.3 .2z"/>
<path fill="#57a0ca" d="M190 266l125 0 0-122-121.2 0 1 1.3 .3 1.2-.1 1.3-.8 1.3-1.6 1.1-1.3 .3-1.3-.3zM252.5 219.1l-5.2-1.6-4.3-2.3-3.5-2.8-2.2-2.3-1.7-2.2-2.4-4.2-1.7-5.1-.4-2.5-.1-2.5 .5-3.8 1.5-4.5 2.5-4.4 4-4.7 5.2-4.7 5.2-3.7 5.2-2.6 3.9-1 3.9 .1 3.9 1.4 3.9 2.6 6.5 5.9 6.2 6.7 2.8 3.8 2 3.8 .8 3.8-.2 3.8-.7 2.5-1 2.6-3.1 5.1-4.2 4.5-2.6 2.2-2.6 1.8-5.2 2.7-5.2 1.6-3.9 .5-2.6 .1z"/>
<path fill="#75b3d4" d="M190 266l33.4 0 5.1-6.4 .6-1.2 .2-1.3-.1-1.3-1.1-2.5-3.1-3.8-9.3-8.9-7.3-6.4-3.5-2.5-3.2-1.8-11.7-4.4zM252.6 266l33.2 0-3.1-7.6-1.5-2.6-1-1.2-1.5-1.3-1.5-.8-2.1-.5-1.8-.1-2.6 .3-4.9 1.1-3.5 1.3-5 2.5-1.7 1.3-1.3 1.2-.8 1.3-.8 2.6zM308.8 168.1l2.3 .5 3.9-.5 0-24.1-25 0 0 2.5 .9 3.9 2.3 5 1.8 2.6 2.2 2.5 3.5 3.2 3.9 2.6 2.6 1.3zM210.6 145.3l2.8 .7 2.6 .2 2.6-.8 2.4-1.4-16 0z"/>
<path fill="#92c5de" d="M311.7 164.3l3.3 .1 0-20.4-21.1 0 .1 2.5 .9 3.9 1.8 3.8 2.7 3.5 2.6 2.4 3.9 2.5 2.6 1z"/>
<path fill="#a8d0e4" d="M311.4 161.8l3.6 .1 0-17.9-18.7 0 .4 3.8 .8 2.6 1.3 2.5 1.8 2.5 2.6 2.6 2.7 1.8 2.6 1.2z"/>
<path fill="#c0dceb" d="M308.6 158l3.8 .8 2.6-.2 0-14.6-15.8 0 .1 2.5 .3 1.3 1 2.6 1.4 2.2 2.6 2.8 1.7 1.3z"/>
<path fill="#d4e6f1" d="M310.5 154.2l1.9 .4 2.6-.3 0-10.3-11.6 0 .2 2.5 .4 1.3 1.4 2.6 2.6 2.5z"/>
<path fill="#e2edf3" d="M311.8 151.6l1.9 .2 1.3-.2 0-7.6-8.7 0 .3 2.5 1.4 2.6 1.8 1.7z"/>
<path fill="#f0f4f6" d="M312.8 149.1l.9 .5 1.3 0 0-5.6-6.3 0 .2 1.3 .9 .9 .9 1.6z"/>
<path fill="#f8f2ef" d="M313.8 147.8l1.2 .2 0-4-4.1 0 .2 1.3 .8 1.2z"/>
<path fill="#fae8dd" d="M314.8 146.5l.2 .1 0-2.6-2.7 0 .4 1.3 1 .9z"/>
<path fill="#fdddcb" d="M313.8 144l1.2 1.2 0-1.2z"/>
<rect x="318.0" y="261.34" width="11.0" height="4.66" fill="#266db0"/>
<rect x="318.0" y="256.97" width="11.0" height="4.66" fill="#337eb8"/>
<rect x="318.0" y="252.61" width="11.0" height="4.66" fill="#408fc1"/>
<rect x="318.0" y="248.25" width="11.0" height="4.66" fill="#57a0ca"/>
<rect x="318.0" y="243.88" width="11.0" height="4.66" fill="#75b3d4"/>
<rect x="318.0" y="239.52" width="11.0" height="4.66" fill="#92c5de"/>
<rect x="318.0" y="235.15" width="11.0" height="4.66" fill="#a8d0e4"/>
<rect x="318.0" y="230.79" width="11.0" height="4.66" fill="#c0dceb"/>
<rect x="318.0" y="226.43" width="11.0" height="4.66" fill="#d4e6f1"/>
<rect x="318.0" y="222.06" width="11.0" height="4.66" fill="#e2edf3"/>
<rect x="318.0" y="217.70" width="11.0" height="4.66" fill="#f0f4f6"/>
<rect x="318.0" y="213.34" width="11.0" height="4.66" fill="#f8f2ef"/>
<rect x="318.0" y="208.97" width="11.0" height="4.66" fill="#fae8dd"/>
<rect x="318.0" y="204.61" width="11.0" height="4.66" fill="#fdddcb"/>
<rect x="318.0" y="200.25" width="11.0" height="4.66" fill="#fbccb4"/>
<rect x="318.0" y="195.88" width="11.0" height="4.66" fill="#f7b89a"/>
<rect x="318.0" y="191.52" width="11.0" height="4.66" fill="#f3a381"/>
<rect x="318.0" y="187.15" width="11.0" height="4.66" fill="#e98c6e"/>
<rect x="318.0" y="182.79" width="11.0" height="4.66" fill="#de725b"/>
<rect x="318.0" y="178.43" width="11.0" height="4.66" fill="#d35a4a"/>
<rect x="318.0" y="174.06" width="11.0" height="4.66" fill="#c53e3d"/>
<rect x="318.0" y="169.70" width="11.0" height="4.36" fill="#b82330"/>
<path d="M318.0 261.34h11.0M318.0 256.97h11.0M318.0 252.61h11.0M318.0 248.25h11.0M318.0 243.88h11.0M318.0 239.52h11.0M318.0 235.15h11.0M318.0 230.79h11.0M318.0 226.43h11.0M318.0 222.06h11.0M318.0 217.70h11.0M318.0 213.34h11.0M318.0 208.97h11.0M318.0 204.61h11.0M318.0 200.25h11.0M318.0 195.88h11.0M318.0 191.52h11.0M318.0 187.15h11.0M318.0 182.79h11.0M318.0 178.43h11.0M318.0 174.06h11.0" stroke="#000" stroke-opacity="0.1" stroke-width="0.5" fill="none"/>
<rect x="318.2" y="169.9" width="10.5" height="95.5" stroke="#000" stroke-opacity="0.1" stroke-width="0.5" fill="none"/>
<rect x="359.0" y="144.0" width="125.0" height="122.0" fill="#c8e3ee"/>
<rect x="486.2" y="261.34" width="11.0" height="4.66" fill="#266db0"/>
<rect x="486.2" y="256.97" width="11.0" height="4.66" fill="#337eb8"/>
<rect x="486.2" y="252.61" width="11.0" height="4.66" fill="#408fc1"/>
<rect x="486.2" y="248.25" width="11.0" height="4.66" fill="#57a0ca"/>
<rect x="486.2" y="243.88" width="11.0" height="4.66" fill="#75b3d4"/>
<rect x="486.2" y="239.52" width="11.0" height="4.66" fill="#92c5de"/>
<rect x="486.2" y="235.15" width="11.0" height="4.66" fill="#a8d0e4"/>
<rect x="486.2" y="230.79" width="11.0" height="4.66" fill="#c0dceb"/>
<rect x="486.2" y="226.43" width="11.0" height="4.66" fill="#d4e6f1"/>
<rect x="486.2" y="222.06" width="11.0" height="4.66" fill="#e2edf3"/>
<rect x="486.2" y="217.70" width="11.0" height="4.66" fill="#f0f4f6"/>
<rect x="486.2" y="213.34" width="11.0" height="4.66" fill="#f8f2ef"/>
<rect x="486.2" y="208.97" width="11.0" height="4.66" fill="#fae8dd"/>
<rect x="486.2" y="204.61" width="11.0" height="4.66" fill="#fdddcb"/>
<rect x="486.2" y="200.25" width="11.0" height="4.66" fill="#fbccb4"/>
<rect x="486.2" y="195.88" width="11.0" height="4.66" fill="#f7b89a"/>
<rect x="486.2" y="191.52" width="11.0" height="4.66" fill="#f3a381"/>
<rect x="486.2" y="187.15" width="11.0" height="4.66" fill="#e98c6e"/>
<rect x="486.2" y="182.79" width="11.0" height="4.66" fill="#de725b"/>
<rect x="486.2" y="178.43" width="11.0" height="4.66" fill="#d35a4a"/>
<rect x="486.2" y="174.06" width="11.0" height="4.66" fill="#c53e3d"/>
<rect x="486.2" y="169.70" width="11.0" height="4.36" fill="#b82330"/>
<path d="M486.2 261.34h11.0M486.2 256.97h11.0M486.2 252.61h11.0M486.2 248.25h11.0M486.2 243.88h11.0M486.2 239.52h11.0M486.2 235.15h11.0M486.2 230.79h11.0M486.2 226.43h11.0M486.2 222.06h11.0M486.2 217.70h11.0M486.2 213.34h11.0M486.2 208.97h11.0M486.2 204.61h11.0M486.2 200.25h11.0M486.2 195.88h11.0M486.2 191.52h11.0M486.2 187.15h11.0M486.2 182.79h11.0M486.2 178.43h11.0M486.2 174.06h11.0" stroke="#000" stroke-opacity="0.1" stroke-width="0.5" fill="none"/>
<rect x="486.4" y="169.9" width="10.5" height="95.5" stroke="#000" stroke-opacity="0.1" stroke-width="0.5" fill="none"/>
<path fill="#bcdcec" d="M425.4 233l5.2-.2 3.9-.7 2.6-.8 2.6-.9 3.9-1.9 5.2-3.5 2.6-2.2 2.5-2.6 3.9-5 1.6-2.6 1.7-3.8 .8-2.5 .5-2.6 0-3.8-.7-2.5-1.2-2.6-2.9-3.8-17.9-18.9-3.9-3-2.6-1.2-1.3-.3-1.3 0-2.6 .5-2.6 1-2.6 1.5-7.8 5.6-7 5.9-4.9 5.1-3.7 5.1-1.8 3.8-.8 2.5-.5 2.6 0 5.1 .5 2.8 1 3.5 2.5 5.1 1.7 2.5 2.1 2.6 4.4 4 5.2 3.2 5.2 1.9 2.6 .6z"/>
<rect x="473" y="147" width="8.5" height="7" fill="#d3e9f2"/><rect x="481.6" y="149" width="1.6" height="9" fill="#acd0e4"/>
<g font-family="Liberation Serif, serif" font-size="7.50" fill="#333" stroke="#333" stroke-width="0.05" text-anchor="end">
<text transform="translate(179.3 53.3) scale(1 1.06)">3.65</text>
<text transform="translate(179.3 62.0) scale(1 1.06)">3.30</text>
<text transform="translate(179.3 70.7) scale(1 1.06)">2.96</text>
<text transform="translate(179.3 79.3) scale(1 1.06)">2.61</text>
<text transform="translate(179.3 88.0) scale(1 1.06)">2.26</text>
<text transform="translate(179.3 96.7) scale(1 1.06)">1.91</text>
<text transform="translate(179.3 105.4) scale(1 1.06)">1.57</text>
<text transform="translate(179.3 114.1) scale(1 1.06)">1.22</text>
<text transform="translate(179.3 122.7) scale(1 1.06)">0.87</text>
<text transform="translate(179.3 131.4) scale(1 1.06)">0.52</text>
<text transform="translate(179.3 140.1) scale(1 1.06)">0.17</text>
<text transform="translate(347.5 53.3) scale(1 1.06)">3.65</text>
<text transform="translate(347.5 62.0) scale(1 1.06)">3.30</text>
<text transform="translate(347.5 70.7) scale(1 1.06)">2.96</text>
<text transform="translate(347.5 79.3) scale(1 1.06)">2.61</text>
<text transform="translate(347.5 88.0) scale(1 1.06)">2.26</text>
<text transform="translate(347.5 96.7) scale(1 1.06)">1.91</text>
<text transform="translate(347.5 105.4) scale(1 1.06)">1.57</text>
<text transform="translate(347.5 114.1) scale(1 1.06)">1.22</text>
<text transform="translate(347.5 122.7) scale(1 1.06)">0.87</text>
<text transform="translate(347.5 131.4) scale(1 1.06)">0.52</text>
<text transform="translate(347.5 140.1) scale(1 1.06)">0.17</text>
<text transform="translate(515.7 53.3) scale(1 1.06)">0.88</text>
<text transform="translate(515.7 62.0) scale(1 1.06)">0.79</text>
<text transform="translate(515.7 70.7) scale(1 1.06)">0.71</text>
<text transform="translate(515.7 79.3) scale(1 1.06)">0.63</text>
<text transform="translate(515.7 88.0) scale(1 1.06)">0.54</text>
<text transform="translate(515.7 96.7) scale(1 1.06)">0.46</text>
<text transform="translate(515.7 105.4) scale(1 1.06)">0.38</text>
<text transform="translate(515.7 114.1) scale(1 1.06)">0.29</text>
<text transform="translate(515.7 122.7) scale(1 1.06)">0.21</text>
<text transform="translate(515.7 131.4) scale(1 1.06)">0.13</text>
<text transform="translate(515.7 140.1) scale(1 1.06)">0.04</text>
<text transform="translate(182.8 181.6) scale(1 1.06)">26.91</text>
<text transform="translate(182.8 190.3) scale(1 1.06)">24.35</text>
<text transform="translate(182.8 199.0) scale(1 1.06)">21.78</text>
<text transform="translate(182.8 207.6) scale(1 1.06)">19.21</text>
<text transform="translate(182.8 216.3) scale(1 1.06)">16.64</text>
<text transform="translate(182.8 225.0) scale(1 1.06)">14.07</text>
<text transform="translate(182.8 233.7) scale(1 1.06)">11.50</text>
<text transform="translate(182.8 242.4) scale(1 1.06)">8.93</text>
<text transform="translate(182.8 251.0) scale(1 1.06)">6.36</text>
<text transform="translate(182.8 259.7) scale(1 1.06)">3.79</text>
<text transform="translate(182.8 268.4) scale(1 1.06)">1.22</text>
<text transform="translate(351.0 181.6) scale(1 1.06)">26.91</text>
<text transform="translate(351.0 190.3) scale(1 1.06)">24.35</text>
<text transform="translate(351.0 199.0) scale(1 1.06)">21.78</text>
<text transform="translate(351.0 207.6) scale(1 1.06)">19.21</text>
<text transform="translate(351.0 216.3) scale(1 1.06)">16.64</text>
<text transform="translate(351.0 225.0) scale(1 1.06)">14.07</text>
<text transform="translate(351.0 233.7) scale(1 1.06)">11.50</text>
<text transform="translate(351.0 242.4) scale(1 1.06)">8.93</text>
<text transform="translate(351.0 251.0) scale(1 1.06)">6.36</text>
<text transform="translate(351.0 259.7) scale(1 1.06)">3.79</text>
<text transform="translate(351.0 268.4) scale(1 1.06)">1.22</text>
<text transform="translate(519.2 181.6) scale(1 1.06)">13.94</text>
<text transform="translate(519.2 190.3) scale(1 1.06)">12.61</text>
<text transform="translate(519.2 199.0) scale(1 1.06)">11.29</text>
<text transform="translate(519.2 207.6) scale(1 1.06)">9.96</text>
<text transform="translate(519.2 216.3) scale(1 1.06)">8.63</text>
<text transform="translate(519.2 225.0) scale(1 1.06)">7.30</text>
<text transform="translate(519.2 233.7) scale(1 1.06)">5.98</text>
<text transform="translate(519.2 242.4) scale(1 1.06)">4.65</text>
<text transform="translate(519.2 251.0) scale(1 1.06)">3.32</text>
<text transform="translate(519.2 259.7) scale(1 1.06)">1.99</text>
<text transform="translate(519.2 268.4) scale(1 1.06)">0.66</text>
</g>
<g font-family="Liberation Serif, serif" font-weight="bold" fill="#000" stroke="#000" stroke-width="0.3">
<text transform="translate(88.5 9.3) scale(1 1.12)" font-size="14.0" text-anchor="middle">FDGN</text>
<text transform="translate(253.8 9.3) scale(1 1.12)" font-size="14.0" text-anchor="middle">CFD</text>
<text transform="translate(419.8 9.3) scale(1 1.12)" font-size="14.0" text-anchor="middle">Absolute error</text>
<text transform="translate(2.6 72.6) scale(1 1.22)" font-size="12">U</text>
</g>
<g font-family="Liberation Serif, serif" font-style="italic" fill="#111">
<text transform="translate(1.5 209.3) scale(1 0.93)" font-size="14">p</text>
</g>
</svg>
</body></html>
